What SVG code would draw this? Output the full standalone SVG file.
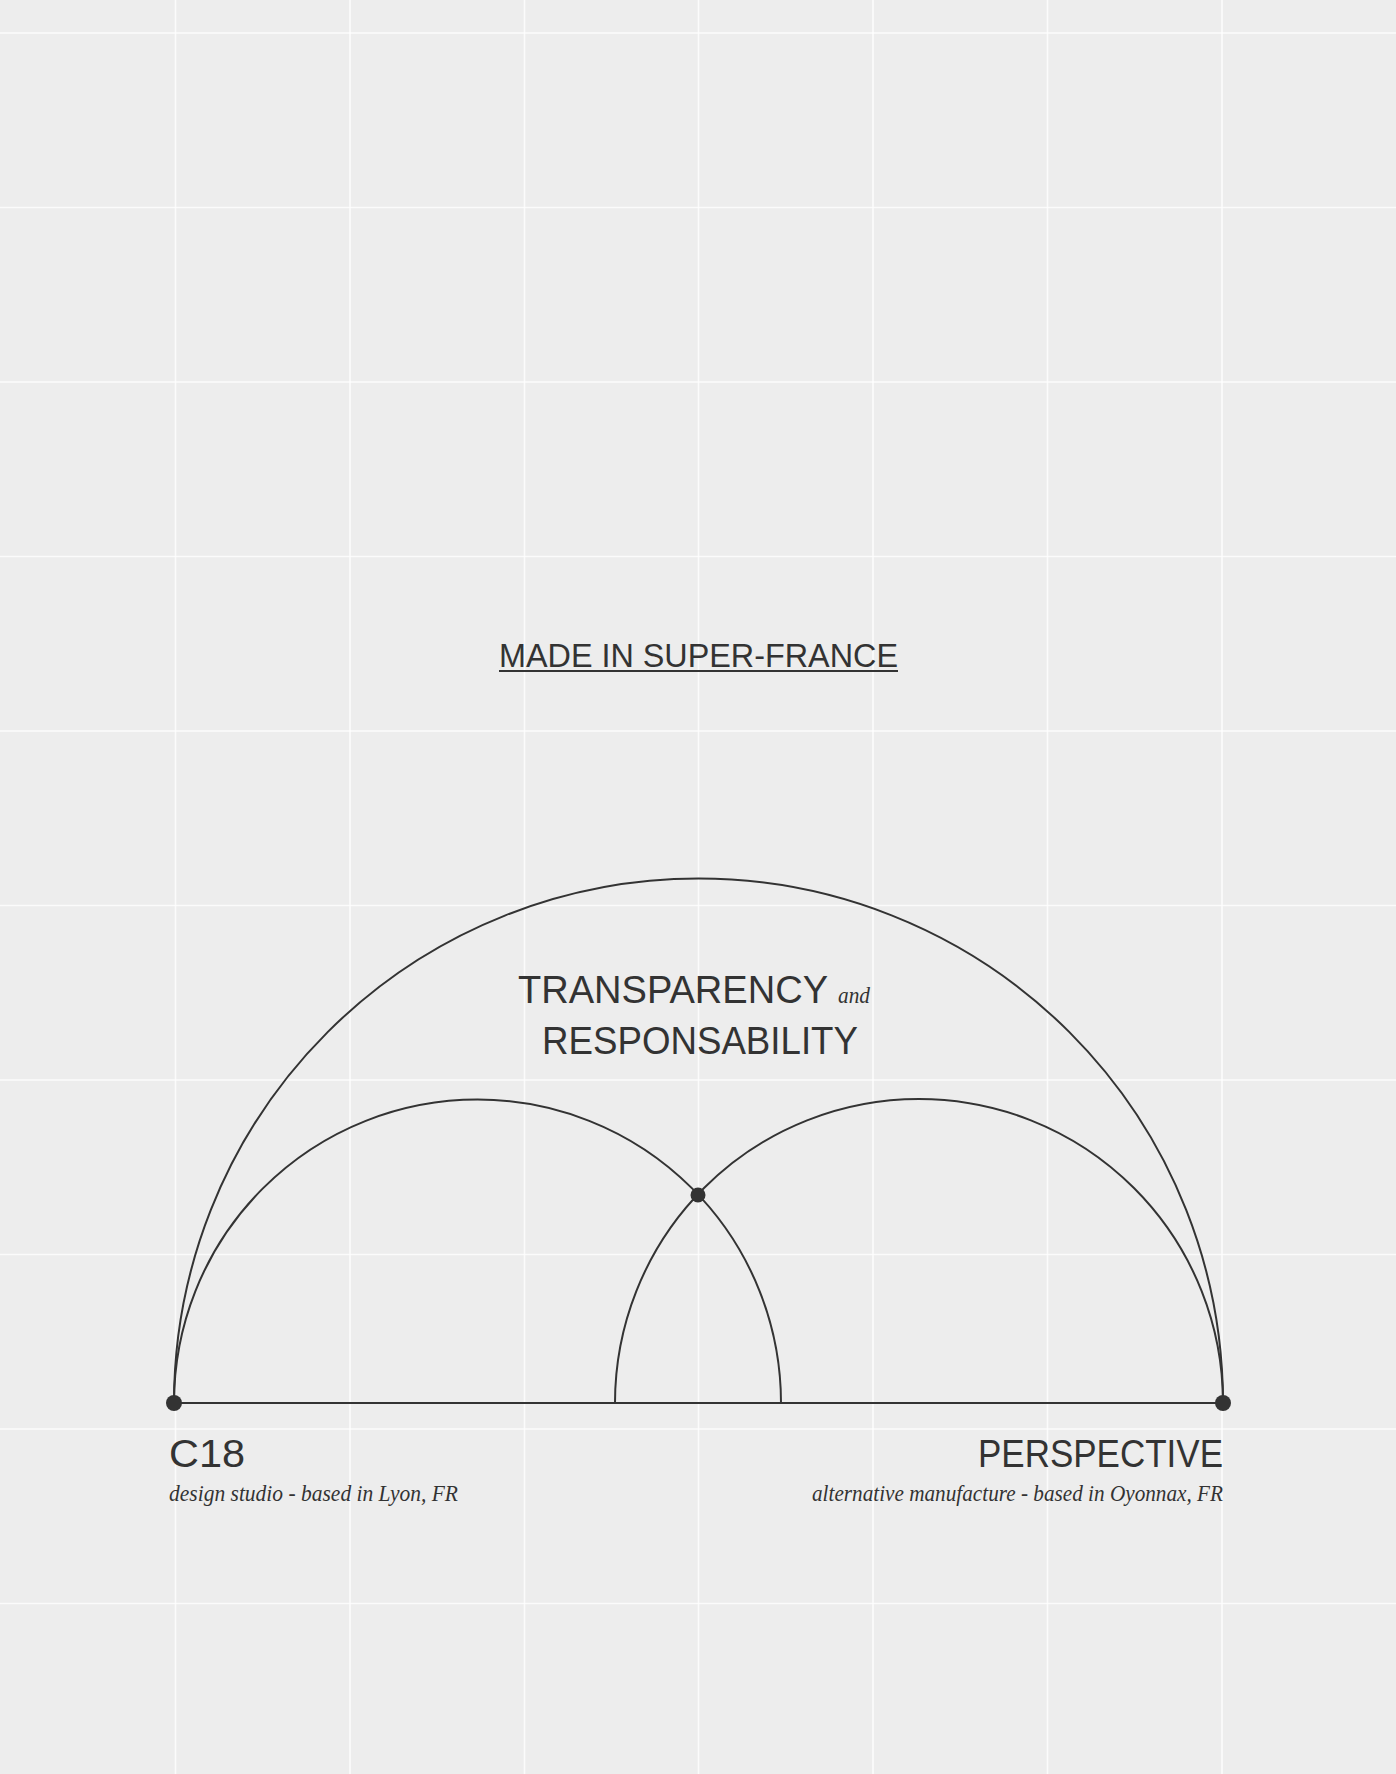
<svg xmlns="http://www.w3.org/2000/svg" width="1396" height="1774" viewBox="0 0 1396 1774">
<style>
.grid line{stroke:#ffffff;stroke-width:1.6;opacity:0.8}
.ln{fill:none;stroke:#333333;stroke-width:2}
.dot{fill:#333333}
.sans{font-family:"Liberation Sans",Arial,sans-serif;fill:#333333}
.ital{font-family:"Liberation Serif","Times New Roman",serif;font-style:italic;fill:#333333}
</style>
<rect width="1396" height="1774" fill="#ededed"/>
<g class="grid">
<line x1="175.5" y1="0" x2="175.5" y2="1774"/>
<line x1="350" y1="0" x2="350" y2="1774"/>
<line x1="524.5" y1="0" x2="524.5" y2="1774"/>
<line x1="698.5" y1="0" x2="698.5" y2="1774"/>
<line x1="873" y1="0" x2="873" y2="1774"/>
<line x1="1047.5" y1="0" x2="1047.5" y2="1774"/>
<line x1="1222" y1="0" x2="1222" y2="1774"/>
<line x1="0" y1="33" x2="1396" y2="33"/>
<line x1="0" y1="207.5" x2="1396" y2="207.5"/>
<line x1="0" y1="382" x2="1396" y2="382"/>
<line x1="0" y1="556.5" x2="1396" y2="556.5"/>
<line x1="0" y1="731" x2="1396" y2="731"/>
<line x1="0" y1="905.5" x2="1396" y2="905.5"/>
<line x1="0" y1="1080" x2="1396" y2="1080"/>
<line x1="0" y1="1254.5" x2="1396" y2="1254.5"/>
<line x1="0" y1="1429" x2="1396" y2="1429"/>
<line x1="0" y1="1603.5" x2="1396" y2="1603.5"/>
</g>
<g id="connectors">
<line class="ln" x1="174" y1="1403" x2="1223" y2="1403"/>
<path class="ln" d="M174 1403 A524.5 524.5 0 0 1 1223 1403"/>
<path class="ln" d="M174 1403 A303.5 303.5 0 0 1 781 1403"/>
<path class="ln" d="M615 1403 A304 304 0 0 1 1223 1403"/>
</g>
<g id="title">
<text class="sans" x="499" y="667" font-size="33" textLength="399" lengthAdjust="spacingAndGlyphs">MADE IN SUPER-FRANCE</text>
<line x1="499" y1="671" x2="898" y2="671" stroke="#333333" stroke-width="2"/>
</g>
<g id="center-label">
<text class="sans" x="518" y="1003" font-size="39" textLength="310" lengthAdjust="spacingAndGlyphs">TRANSPARENCY</text>
<text class="ital" x="838" y="1003" font-size="23" textLength="32" lengthAdjust="spacingAndGlyphs">and</text>
<text class="sans" x="542" y="1054" font-size="39" textLength="316" lengthAdjust="spacingAndGlyphs">RESPONSABILITY</text>
</g>
<g id="node-c18">
<circle class="dot" cx="174" cy="1403" r="8"/>
<text class="sans" x="169" y="1467" font-size="38" textLength="76" lengthAdjust="spacingAndGlyphs">C18</text>
<text class="ital" x="169" y="1501" font-size="24" textLength="289" lengthAdjust="spacingAndGlyphs">design studio - based in Lyon, FR</text>
</g>
<g id="node-perspective">
<circle class="dot" cx="1223" cy="1403" r="8"/>
<text class="sans" x="978" y="1467" font-size="38" textLength="245" lengthAdjust="spacingAndGlyphs">PERSPECTIVE</text>
<text class="ital" x="812" y="1501" font-size="24" textLength="411" lengthAdjust="spacingAndGlyphs">alternative manufacture - based in Oyonnax, FR</text>
</g>
<g id="node-intersection">
<circle class="dot" cx="698" cy="1195" r="7.5"/>
</g>
</svg>
